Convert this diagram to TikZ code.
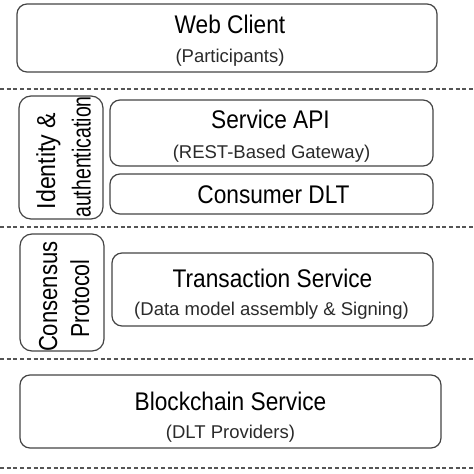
\documentclass[tikz,border=0pt]{standalone}
\usepackage{fontspec}
\setmainfont{Liberation Sans}
\newfontfamily\tfont[FakeStretch=0.89]{Liberation Sans}
\definecolor{boxline}{HTML}{444444}
\definecolor{dashline}{HTML}{555555}
\definecolor{subtext}{HTML}{2A2A2A}
\begin{document}
\begin{tikzpicture}[x=1pt,y=-1pt,
  layerbox/.style={draw=boxline, line width=1.2pt, rounded corners=10pt, inner sep=0pt, outer sep=0pt},
  sidebox/.style={draw=boxline, line width=1.2pt, rounded corners=12pt, inner sep=0pt, outer sep=0pt},
  sep/.style={draw=dashline, line width=1.2pt, dash pattern=on 4pt off 2.7pt},
  ttl/.style={inner sep=0pt, anchor=base, font=\tfont\fontsize{25.5}{30}\selectfont, text=black},
  sub/.style={inner sep=0pt, anchor=base, font=\fontsize{18.5}{22}\selectfont, text=subtext},
  vtxt/.style={inner sep=0pt, anchor=base, rotate=90, font=\fontsize{26}{30}\selectfont, text=black}]
\useasboundingbox (0,0) rectangle (474,474);
% separators
\coordinate (s1a) at (0,89);  \coordinate (s1b) at (474,89);
\coordinate (s2a) at (0,227); \coordinate (s2b) at (474,227);
\coordinate (s3a) at (0,359); \coordinate (s3b) at (474,359);
\coordinate (s4a) at (0,468); \coordinate (s4b) at (474,468);
\draw[sep] (s1a) -- (s1b);
\draw[sep] (s2a) -- (s2b);
\draw[sep] (s3a) -- (s3b);
\draw[sep] (s4a) -- (s4b);
% boxes
\draw[layerbox] (17,4) rectangle (437,72);
\draw[sidebox] (19,96) rectangle (103,219);
\draw[layerbox] (110,100) rectangle (433,166);
\draw[layerbox] (110,174) rectangle (433,214);
\draw[sidebox] (20,234) rectangle (104,351);
\draw[layerbox] (112,253) rectangle (433,326);
\draw[layerbox] (20,375) rectangle (441,448);
% texts
\node[ttl] (webt) at (230,33) {Web Client};
\node[sub] (webs) at (230,62) {(Participants)};
\node[ttl] (apit) at (270.5,128) {Service API};
\node[sub] (apis) at (271.5,158) {(REST-Based Gateway)};
\node[ttl] (cdlt) at (273.5,203) {Consumer DLT};
\node[ttl] (txt) at (272.5,287) {Transaction Service};
\node[sub] (txs) at (271.5,315) {(Data model assembly \& Signing)};
\node[ttl] (bct) at (230.5,410) {Blockchain Service};
\node[sub] (bcs) at (230.5,438) {(DLT Providers)};
% vertical texts
\node[vtxt] (id1) at (55,161) {\scalebox{0.89}[1]{Identity \&}};
\node[vtxt] (id2) at (90.5,157) {\scalebox{0.75}[1]{authentication}};
\node[vtxt] (cs1) at (57,296.7) {\scalebox{0.85}[1]{Consensus}};
\node[vtxt] (cs2) at (89,298.8) {\scalebox{0.82}[1]{Protocol}};
\end{tikzpicture}
\end{document}
